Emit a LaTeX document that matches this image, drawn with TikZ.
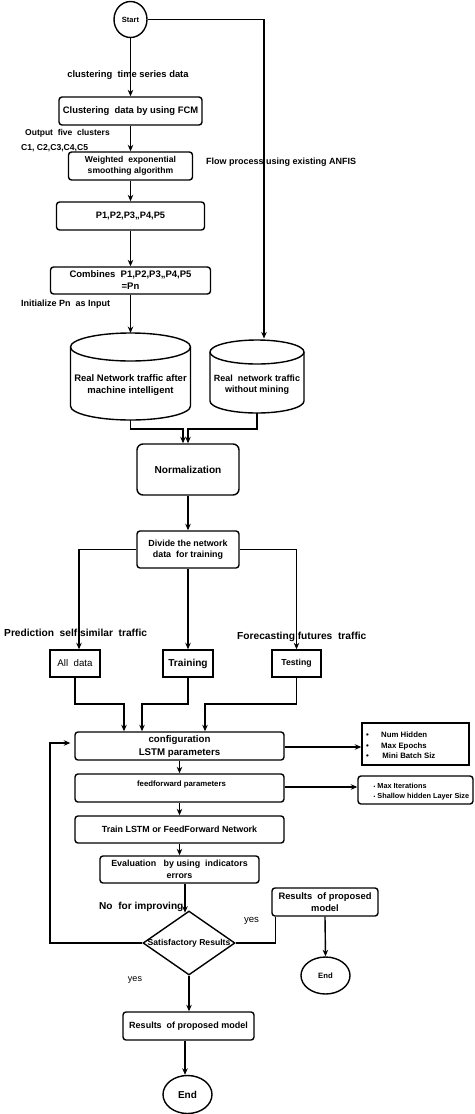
\documentclass[tikz,border=0pt]{standalone}
\usepackage{fontspec}
\setmainfont{Liberation Sans}
\usetikzlibrary{shapes.geometric,arrows.meta,calc}
\newcommand\fz[2]{\fontsize{#1pt}{#2pt}\selectfont}
\begin{document}
\begin{tikzpicture}[x=1pt,y=1pt,
  every node/.style={font=\bfseries\fz{9}{11}, inner sep=0pt},
  ln/.style={line width=1.4pt},
  arr/.style={line width=1.4pt,-{Stealth[length=6.5pt,width=5.5pt]}},
  rbox/.style={draw,line width=1.4pt,rounded corners=3pt,align=center},
  sbox/.style={draw,line width=1.4pt,align=center},
  lbl/.style={anchor=west},
  oval/.style={ellipse,draw,line width=1.4pt},
]
\useasboundingbox (0,0) rectangle (474,-1114);

% ---- nodes ----
\node[oval,minimum width=33pt,minimum height=36pt,font=\bfseries\fz{7.5}{9}] (start) at (130.5,-19.5) {Start};
\node[rbox,minimum width=143pt,minimum height=28pt,font=\bfseries\fz{9.4}{11}] (clust) at (130.5,-111) {Clustering\ \ data by using FCM};
\node[rbox,minimum width=124pt,minimum height=28pt,font=\bfseries\fz{8.6}{10.8}] (wes) at (130.5,-166) {Weighted\ \ exponential\\smoothing algorithm};
\node[rbox,minimum width=148pt,minimum height=28pt,font=\bfseries\fz{9.3}{11}] (p) at (130.5,-216) {P1,P2,P3,,P4,P5};
\node[rbox,minimum width=160pt,minimum height=27pt,font=\bfseries\fz{9.5}{12}] (comb) at (130.5,-280.5) {Combines\ \ P1,P2,P3,,P4,P5\\=Pn};

% cylinders
\draw[ln] (70.5,-347) -- (70.5,-406) arc[start angle=180,end angle=360,x radius=60pt,y radius=14pt] -- (190.5,-347) arc[start angle=0,end angle=180,x radius=60pt,y radius=14pt];
\draw[ln] (70.5,-347) arc[start angle=180,end angle=360,x radius=60pt,y radius=14pt];
\draw[ln] (210,-352) -- (210,-401) arc[start angle=180,end angle=360,x radius=47pt,y radius=12pt] -- (304,-352) arc[start angle=0,end angle=180,x radius=47pt,y radius=12pt];
\draw[ln] (210,-352) arc[start angle=180,end angle=360,x radius=47pt,y radius=12pt];
\node[font=\bfseries\fz{9.5}{11.3},align=center] (cylLt) at (130.5,-385) {Real Network traffic after\\machine intelligent};
\node[font=\bfseries\fz{9}{11.3},align=center] (cylRt) at (257,-385) {Real\ \ network traffic\\without mining};
\coordinate (cylLtop) at (130.5,-333);
\coordinate (cylLbot) at (130.5,-420);
\coordinate (cylRtop) at (264,-338.5);
\coordinate (cylRbot) at (257,-413);

\node[draw,line width=1.4pt,rounded corners=6pt,minimum width=102pt,minimum height=51pt,font=\bfseries\fz{10.1}{12}] (norm) at (188,-469.5) {Normalization};
\node[rbox,minimum width=102pt,minimum height=37pt,font=\bfseries\fz{8.9}{11.3}] (div) at (188,-549.5) {Divide the network\\data\ \ for training};
\node[sbox,minimum width=50pt,minimum height=27pt,font=\fz{9.7}{12}] (alld) at (75,-663.5) {All\ \ data};
\node[sbox,minimum width=50pt,minimum height=27pt,font=\bfseries\fz{10.1}{12}] (train) at (188,-663.5) {Training};
\node[sbox,minimum width=49pt,minimum height=27pt,font=\bfseries\fz{8.7}{12}] (test) at (296.5,-663.5) {Testing};

\node[rbox,minimum width=209pt,minimum height=28pt,font=\bfseries\fz{9.7}{13}] (conf) at (179.5,-746) {configuration\\LSTM parameters};
\node[rbox,minimum width=209pt,minimum height=28pt] (ff) at (179.5,-788) {};
\node[font=\bfseries\fz{7.8}{9}] (fft) at (181.5,-784) {feedforward parameters};
\node[rbox,minimum width=209pt,minimum height=27pt,font=\bfseries\fz{8.9}{11}] (trn) at (179.5,-829.5) {Train LSTM or FeedForward Network};
\node[rbox,minimum width=159pt,minimum height=27pt,font=\bfseries\fz{8.9}{11.7}] (eval) at (179.5,-869.5) {Evaluation\ \ \ by using\ \ indicators\\errors};

\node[diamond,draw,line width=1.4pt,minimum width=92pt,minimum height=64pt,aspect=1.44] (dia) at (189,-943) {};
\node[font=\bfseries\fz{8.6}{10}] (diat) at (189,-943) {Satisfactory Results};

\node[rbox,minimum width=106pt,minimum height=28pt,font=\bfseries\fz{9.35}{12}] (resR) at (325,-902) {Results\ \ of proposed\\model};
\node[oval,minimum width=49pt,minimum height=37pt,font=\bfseries\fz{7.7}{9}] (endR) at (325.5,-975.5) {End};
\node[rbox,minimum width=131pt,minimum height=28pt,font=\bfseries\fz{9}{11}] (resB) at (188.5,-1026) {Results\ \ of proposed model};
\node[oval,minimum width=49pt,minimum height=38pt,font=\bfseries\fz{10}{12}] (endB) at (187.5,-1094.5) {End};

\node[sbox,minimum width=107pt,minimum height=42pt] (box1) at (415.5,-744) {};
\node[anchor=west,align=left,font=\bfseries\fz{7.8}{10.4}] (b1t) at (366,-745.5) {\makebox[15pt][l]{•}Num Hidden\\\makebox[15pt][l]{•}Max Epochs\\\makebox[15pt][l]{•}\,Mini Batch Siz};
\node[rbox,minimum width=115pt,minimum height=28pt] (box2) at (415.5,-790) {};
\node[anchor=west,align=left,font=\bfseries\fz{7.3}{10}] (b2t) at (373.5,-792) {{\fz{5}{6}•} Max Iterations\\{\fz{5}{6}•} Shallow hidden Layer Size};

% ---- labels ----
\node[font=\bfseries\fz{9.4}{11}] (l1) at (128,-75) {clustering\ \ time series data};
\node[lbl,font=\bfseries\fz{8.5}{10}] (l2) at (25,-133) {Output\ \ five\ \ clusters};
\node[lbl,font=\bfseries\fz{8.6}{10}] (l3) at (21,-148) {C1, C2,C3,C4,C5};
\node[lbl,font=\bfseries\fz{9}{11}] (l4) at (206,-162) {Flow process using existing ANFIS};
\node[lbl,font=\bfseries\fz{9}{11}] (l5) at (21,-304) {Initialize Pn\ \ as Input};
\node[lbl,font=\bfseries\fz{10.2}{12}] (l6) at (4,-633) {Prediction\ \ self similar\ \ traffic};
\node[lbl,font=\bfseries\fz{10.2}{12}] (l7) at (237,-637) {Forecasting futures\ \ traffic};
\node[lbl,font=\bfseries\fz{10.1}{12}] (l8) at (99,-907) {No\ \ for improving};
\node[font=\fz{9.6}{11}] (y1) at (251.5,-921) {yes};
\node[font=\fz{9}{11}] (y2) at (135,-980) {yes};

% ---- connectors ----
\draw[arr] (start.east) -| (cylRtop);
\draw[arr] (start.south) -- (clust.north);
\draw[arr] (clust.south) -- (wes.north);
\draw[arr] (wes.south) -- (p.north);
\draw[arr] (p.south) -- (comb.north);
\draw[arr] (comb.south) -- (cylLtop);
\draw[arr] (cylLbot) -- (130.5,-429) -| ([xshift=-5pt]norm.north);
\draw[arr] (cylRbot) -- (257,-429) -| (norm.north);
\draw[arr] (norm.south) -- (div.north);
\draw[arr] (div.west) -| ([xshift=4pt]alld.north);
\draw[arr] (div.south) -- (train.north);
\draw[arr] (div.east) -| (test.north);
\draw[arr] (alld.south) -- (75,-704) -| ([xshift=-55.5pt]conf.north);
\draw[arr] (train.south) -- (188,-704) -| ([xshift=-37.5pt]conf.north);
\draw[arr] (test.south) -- (296.5,-704) -| ([xshift=25.5pt]conf.north);
\draw[arr] ([yshift=-1pt]conf.east) -- ([yshift=-1pt]conf.east -| box1.west);
\draw[arr] (conf.south) -- (ff.north);
\draw[arr] ([yshift=1pt]ff.east) -- ([yshift=1pt]ff.east -| box2.west);
\draw[arr] (ff.south) -- (trn.north);
\draw[arr] (trn.south) -- (eval.north);
\draw[arr] ([xshift=5.5pt]eval.south) -- ([xshift=5.5pt,yshift=-29pt]eval.south);
\draw[arr,shorten >=4pt] (dia.west) -| (50,-743) -- ([yshift=3pt]conf.west);
\draw[ln] (dia.east) -| ([xshift=4pt]resR.south west);
\draw[arr] (resR.south) -- (endR.north);
\draw[arr] (dia.south) -- (dia.south |- resB.north);
\draw[arr] ([xshift=-3.5pt]resB.south) -- ([xshift=-3.5pt]resB.south |- endB.north);
\end{tikzpicture}
\end{document}
